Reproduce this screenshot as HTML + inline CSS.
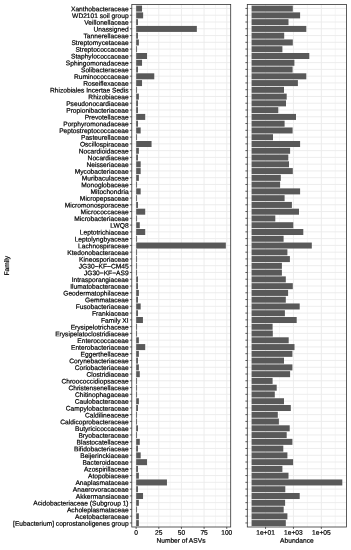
<!DOCTYPE html>
<html><head><meta charset="utf-8"><title>Family chart</title>
<style>html,body{margin:0;padding:0;background:#fff}svg text{text-rendering:geometricPrecision}</style></head>
<body>
<svg width="351" height="550" viewBox="0 0 351 550" style="display:block">
<rect width="351" height="550" fill="#fff"/>
<g stroke="#ebebeb" fill="none">
<line x1="147.47" x2="147.47" y1="4.4" y2="527.0" stroke-width="0.45"/>
<line x1="170.12" x2="170.12" y1="4.4" y2="527.0" stroke-width="0.45"/>
<line x1="192.78" x2="192.78" y1="4.4" y2="527.0" stroke-width="0.45"/>
<line x1="215.43" x2="215.43" y1="4.4" y2="527.0" stroke-width="0.45"/>
<line x1="136.15" x2="136.15" y1="4.4" y2="527.0" stroke-width="0.9"/>
<line x1="158.80" x2="158.80" y1="4.4" y2="527.0" stroke-width="0.9"/>
<line x1="181.45" x2="181.45" y1="4.4" y2="527.0" stroke-width="0.9"/>
<line x1="204.10" x2="204.10" y1="4.4" y2="527.0" stroke-width="0.9"/>
<line x1="226.75" x2="226.75" y1="4.4" y2="527.0" stroke-width="0.9"/>
<line x1="131.8" x2="230.7" y1="8.46" y2="8.46" stroke-width="0.9"/>
<line x1="131.8" x2="230.7" y1="15.23" y2="15.23" stroke-width="0.9"/>
<line x1="131.8" x2="230.7" y1="22.00" y2="22.00" stroke-width="0.9"/>
<line x1="131.8" x2="230.7" y1="28.77" y2="28.77" stroke-width="0.9"/>
<line x1="131.8" x2="230.7" y1="35.54" y2="35.54" stroke-width="0.9"/>
<line x1="131.8" x2="230.7" y1="42.31" y2="42.31" stroke-width="0.9"/>
<line x1="131.8" x2="230.7" y1="49.08" y2="49.08" stroke-width="0.9"/>
<line x1="131.8" x2="230.7" y1="55.85" y2="55.85" stroke-width="0.9"/>
<line x1="131.8" x2="230.7" y1="62.62" y2="62.62" stroke-width="0.9"/>
<line x1="131.8" x2="230.7" y1="69.39" y2="69.39" stroke-width="0.9"/>
<line x1="131.8" x2="230.7" y1="76.16" y2="76.16" stroke-width="0.9"/>
<line x1="131.8" x2="230.7" y1="82.93" y2="82.93" stroke-width="0.9"/>
<line x1="131.8" x2="230.7" y1="89.69" y2="89.69" stroke-width="0.9"/>
<line x1="131.8" x2="230.7" y1="96.46" y2="96.46" stroke-width="0.9"/>
<line x1="131.8" x2="230.7" y1="103.23" y2="103.23" stroke-width="0.9"/>
<line x1="131.8" x2="230.7" y1="110.00" y2="110.00" stroke-width="0.9"/>
<line x1="131.8" x2="230.7" y1="116.77" y2="116.77" stroke-width="0.9"/>
<line x1="131.8" x2="230.7" y1="123.54" y2="123.54" stroke-width="0.9"/>
<line x1="131.8" x2="230.7" y1="130.31" y2="130.31" stroke-width="0.9"/>
<line x1="131.8" x2="230.7" y1="137.08" y2="137.08" stroke-width="0.9"/>
<line x1="131.8" x2="230.7" y1="143.85" y2="143.85" stroke-width="0.9"/>
<line x1="131.8" x2="230.7" y1="150.62" y2="150.62" stroke-width="0.9"/>
<line x1="131.8" x2="230.7" y1="157.39" y2="157.39" stroke-width="0.9"/>
<line x1="131.8" x2="230.7" y1="164.16" y2="164.16" stroke-width="0.9"/>
<line x1="131.8" x2="230.7" y1="170.93" y2="170.93" stroke-width="0.9"/>
<line x1="131.8" x2="230.7" y1="177.70" y2="177.70" stroke-width="0.9"/>
<line x1="131.8" x2="230.7" y1="184.47" y2="184.47" stroke-width="0.9"/>
<line x1="131.8" x2="230.7" y1="191.24" y2="191.24" stroke-width="0.9"/>
<line x1="131.8" x2="230.7" y1="198.01" y2="198.01" stroke-width="0.9"/>
<line x1="131.8" x2="230.7" y1="204.78" y2="204.78" stroke-width="0.9"/>
<line x1="131.8" x2="230.7" y1="211.54" y2="211.54" stroke-width="0.9"/>
<line x1="131.8" x2="230.7" y1="218.31" y2="218.31" stroke-width="0.9"/>
<line x1="131.8" x2="230.7" y1="225.08" y2="225.08" stroke-width="0.9"/>
<line x1="131.8" x2="230.7" y1="231.85" y2="231.85" stroke-width="0.9"/>
<line x1="131.8" x2="230.7" y1="238.62" y2="238.62" stroke-width="0.9"/>
<line x1="131.8" x2="230.7" y1="245.39" y2="245.39" stroke-width="0.9"/>
<line x1="131.8" x2="230.7" y1="252.16" y2="252.16" stroke-width="0.9"/>
<line x1="131.8" x2="230.7" y1="258.93" y2="258.93" stroke-width="0.9"/>
<line x1="131.8" x2="230.7" y1="265.70" y2="265.70" stroke-width="0.9"/>
<line x1="131.8" x2="230.7" y1="272.47" y2="272.47" stroke-width="0.9"/>
<line x1="131.8" x2="230.7" y1="279.24" y2="279.24" stroke-width="0.9"/>
<line x1="131.8" x2="230.7" y1="286.01" y2="286.01" stroke-width="0.9"/>
<line x1="131.8" x2="230.7" y1="292.78" y2="292.78" stroke-width="0.9"/>
<line x1="131.8" x2="230.7" y1="299.55" y2="299.55" stroke-width="0.9"/>
<line x1="131.8" x2="230.7" y1="306.32" y2="306.32" stroke-width="0.9"/>
<line x1="131.8" x2="230.7" y1="313.09" y2="313.09" stroke-width="0.9"/>
<line x1="131.8" x2="230.7" y1="319.86" y2="319.86" stroke-width="0.9"/>
<line x1="131.8" x2="230.7" y1="326.62" y2="326.62" stroke-width="0.9"/>
<line x1="131.8" x2="230.7" y1="333.39" y2="333.39" stroke-width="0.9"/>
<line x1="131.8" x2="230.7" y1="340.16" y2="340.16" stroke-width="0.9"/>
<line x1="131.8" x2="230.7" y1="346.93" y2="346.93" stroke-width="0.9"/>
<line x1="131.8" x2="230.7" y1="353.70" y2="353.70" stroke-width="0.9"/>
<line x1="131.8" x2="230.7" y1="360.47" y2="360.47" stroke-width="0.9"/>
<line x1="131.8" x2="230.7" y1="367.24" y2="367.24" stroke-width="0.9"/>
<line x1="131.8" x2="230.7" y1="374.01" y2="374.01" stroke-width="0.9"/>
<line x1="131.8" x2="230.7" y1="380.78" y2="380.78" stroke-width="0.9"/>
<line x1="131.8" x2="230.7" y1="387.55" y2="387.55" stroke-width="0.9"/>
<line x1="131.8" x2="230.7" y1="394.32" y2="394.32" stroke-width="0.9"/>
<line x1="131.8" x2="230.7" y1="401.09" y2="401.09" stroke-width="0.9"/>
<line x1="131.8" x2="230.7" y1="407.86" y2="407.86" stroke-width="0.9"/>
<line x1="131.8" x2="230.7" y1="414.63" y2="414.63" stroke-width="0.9"/>
<line x1="131.8" x2="230.7" y1="421.40" y2="421.40" stroke-width="0.9"/>
<line x1="131.8" x2="230.7" y1="428.17" y2="428.17" stroke-width="0.9"/>
<line x1="131.8" x2="230.7" y1="434.94" y2="434.94" stroke-width="0.9"/>
<line x1="131.8" x2="230.7" y1="441.71" y2="441.71" stroke-width="0.9"/>
<line x1="131.8" x2="230.7" y1="448.47" y2="448.47" stroke-width="0.9"/>
<line x1="131.8" x2="230.7" y1="455.24" y2="455.24" stroke-width="0.9"/>
<line x1="131.8" x2="230.7" y1="462.01" y2="462.01" stroke-width="0.9"/>
<line x1="131.8" x2="230.7" y1="468.78" y2="468.78" stroke-width="0.9"/>
<line x1="131.8" x2="230.7" y1="475.55" y2="475.55" stroke-width="0.9"/>
<line x1="131.8" x2="230.7" y1="482.32" y2="482.32" stroke-width="0.9"/>
<line x1="131.8" x2="230.7" y1="489.09" y2="489.09" stroke-width="0.9"/>
<line x1="131.8" x2="230.7" y1="495.86" y2="495.86" stroke-width="0.9"/>
<line x1="131.8" x2="230.7" y1="502.63" y2="502.63" stroke-width="0.9"/>
<line x1="131.8" x2="230.7" y1="509.40" y2="509.40" stroke-width="0.9"/>
<line x1="131.8" x2="230.7" y1="516.17" y2="516.17" stroke-width="0.9"/>
<line x1="131.8" x2="230.7" y1="522.94" y2="522.94" stroke-width="0.9"/>
</g>
<g stroke="#ebebeb" fill="none">
<line x1="251.60" x2="251.60" y1="4.4" y2="527.0" stroke-width="0.45"/>
<line x1="279.50" x2="279.50" y1="4.4" y2="527.0" stroke-width="0.45"/>
<line x1="307.40" x2="307.40" y1="4.4" y2="527.0" stroke-width="0.45"/>
<line x1="335.30" x2="335.30" y1="4.4" y2="527.0" stroke-width="0.45"/>
<line x1="265.55" x2="265.55" y1="4.4" y2="527.0" stroke-width="0.9"/>
<line x1="293.45" x2="293.45" y1="4.4" y2="527.0" stroke-width="0.9"/>
<line x1="321.35" x2="321.35" y1="4.4" y2="527.0" stroke-width="0.9"/>
<line x1="247.3" x2="346.5" y1="8.46" y2="8.46" stroke-width="0.9"/>
<line x1="247.3" x2="346.5" y1="15.23" y2="15.23" stroke-width="0.9"/>
<line x1="247.3" x2="346.5" y1="22.00" y2="22.00" stroke-width="0.9"/>
<line x1="247.3" x2="346.5" y1="28.77" y2="28.77" stroke-width="0.9"/>
<line x1="247.3" x2="346.5" y1="35.54" y2="35.54" stroke-width="0.9"/>
<line x1="247.3" x2="346.5" y1="42.31" y2="42.31" stroke-width="0.9"/>
<line x1="247.3" x2="346.5" y1="49.08" y2="49.08" stroke-width="0.9"/>
<line x1="247.3" x2="346.5" y1="55.85" y2="55.85" stroke-width="0.9"/>
<line x1="247.3" x2="346.5" y1="62.62" y2="62.62" stroke-width="0.9"/>
<line x1="247.3" x2="346.5" y1="69.39" y2="69.39" stroke-width="0.9"/>
<line x1="247.3" x2="346.5" y1="76.16" y2="76.16" stroke-width="0.9"/>
<line x1="247.3" x2="346.5" y1="82.93" y2="82.93" stroke-width="0.9"/>
<line x1="247.3" x2="346.5" y1="89.69" y2="89.69" stroke-width="0.9"/>
<line x1="247.3" x2="346.5" y1="96.46" y2="96.46" stroke-width="0.9"/>
<line x1="247.3" x2="346.5" y1="103.23" y2="103.23" stroke-width="0.9"/>
<line x1="247.3" x2="346.5" y1="110.00" y2="110.00" stroke-width="0.9"/>
<line x1="247.3" x2="346.5" y1="116.77" y2="116.77" stroke-width="0.9"/>
<line x1="247.3" x2="346.5" y1="123.54" y2="123.54" stroke-width="0.9"/>
<line x1="247.3" x2="346.5" y1="130.31" y2="130.31" stroke-width="0.9"/>
<line x1="247.3" x2="346.5" y1="137.08" y2="137.08" stroke-width="0.9"/>
<line x1="247.3" x2="346.5" y1="143.85" y2="143.85" stroke-width="0.9"/>
<line x1="247.3" x2="346.5" y1="150.62" y2="150.62" stroke-width="0.9"/>
<line x1="247.3" x2="346.5" y1="157.39" y2="157.39" stroke-width="0.9"/>
<line x1="247.3" x2="346.5" y1="164.16" y2="164.16" stroke-width="0.9"/>
<line x1="247.3" x2="346.5" y1="170.93" y2="170.93" stroke-width="0.9"/>
<line x1="247.3" x2="346.5" y1="177.70" y2="177.70" stroke-width="0.9"/>
<line x1="247.3" x2="346.5" y1="184.47" y2="184.47" stroke-width="0.9"/>
<line x1="247.3" x2="346.5" y1="191.24" y2="191.24" stroke-width="0.9"/>
<line x1="247.3" x2="346.5" y1="198.01" y2="198.01" stroke-width="0.9"/>
<line x1="247.3" x2="346.5" y1="204.78" y2="204.78" stroke-width="0.9"/>
<line x1="247.3" x2="346.5" y1="211.54" y2="211.54" stroke-width="0.9"/>
<line x1="247.3" x2="346.5" y1="218.31" y2="218.31" stroke-width="0.9"/>
<line x1="247.3" x2="346.5" y1="225.08" y2="225.08" stroke-width="0.9"/>
<line x1="247.3" x2="346.5" y1="231.85" y2="231.85" stroke-width="0.9"/>
<line x1="247.3" x2="346.5" y1="238.62" y2="238.62" stroke-width="0.9"/>
<line x1="247.3" x2="346.5" y1="245.39" y2="245.39" stroke-width="0.9"/>
<line x1="247.3" x2="346.5" y1="252.16" y2="252.16" stroke-width="0.9"/>
<line x1="247.3" x2="346.5" y1="258.93" y2="258.93" stroke-width="0.9"/>
<line x1="247.3" x2="346.5" y1="265.70" y2="265.70" stroke-width="0.9"/>
<line x1="247.3" x2="346.5" y1="272.47" y2="272.47" stroke-width="0.9"/>
<line x1="247.3" x2="346.5" y1="279.24" y2="279.24" stroke-width="0.9"/>
<line x1="247.3" x2="346.5" y1="286.01" y2="286.01" stroke-width="0.9"/>
<line x1="247.3" x2="346.5" y1="292.78" y2="292.78" stroke-width="0.9"/>
<line x1="247.3" x2="346.5" y1="299.55" y2="299.55" stroke-width="0.9"/>
<line x1="247.3" x2="346.5" y1="306.32" y2="306.32" stroke-width="0.9"/>
<line x1="247.3" x2="346.5" y1="313.09" y2="313.09" stroke-width="0.9"/>
<line x1="247.3" x2="346.5" y1="319.86" y2="319.86" stroke-width="0.9"/>
<line x1="247.3" x2="346.5" y1="326.62" y2="326.62" stroke-width="0.9"/>
<line x1="247.3" x2="346.5" y1="333.39" y2="333.39" stroke-width="0.9"/>
<line x1="247.3" x2="346.5" y1="340.16" y2="340.16" stroke-width="0.9"/>
<line x1="247.3" x2="346.5" y1="346.93" y2="346.93" stroke-width="0.9"/>
<line x1="247.3" x2="346.5" y1="353.70" y2="353.70" stroke-width="0.9"/>
<line x1="247.3" x2="346.5" y1="360.47" y2="360.47" stroke-width="0.9"/>
<line x1="247.3" x2="346.5" y1="367.24" y2="367.24" stroke-width="0.9"/>
<line x1="247.3" x2="346.5" y1="374.01" y2="374.01" stroke-width="0.9"/>
<line x1="247.3" x2="346.5" y1="380.78" y2="380.78" stroke-width="0.9"/>
<line x1="247.3" x2="346.5" y1="387.55" y2="387.55" stroke-width="0.9"/>
<line x1="247.3" x2="346.5" y1="394.32" y2="394.32" stroke-width="0.9"/>
<line x1="247.3" x2="346.5" y1="401.09" y2="401.09" stroke-width="0.9"/>
<line x1="247.3" x2="346.5" y1="407.86" y2="407.86" stroke-width="0.9"/>
<line x1="247.3" x2="346.5" y1="414.63" y2="414.63" stroke-width="0.9"/>
<line x1="247.3" x2="346.5" y1="421.40" y2="421.40" stroke-width="0.9"/>
<line x1="247.3" x2="346.5" y1="428.17" y2="428.17" stroke-width="0.9"/>
<line x1="247.3" x2="346.5" y1="434.94" y2="434.94" stroke-width="0.9"/>
<line x1="247.3" x2="346.5" y1="441.71" y2="441.71" stroke-width="0.9"/>
<line x1="247.3" x2="346.5" y1="448.47" y2="448.47" stroke-width="0.9"/>
<line x1="247.3" x2="346.5" y1="455.24" y2="455.24" stroke-width="0.9"/>
<line x1="247.3" x2="346.5" y1="462.01" y2="462.01" stroke-width="0.9"/>
<line x1="247.3" x2="346.5" y1="468.78" y2="468.78" stroke-width="0.9"/>
<line x1="247.3" x2="346.5" y1="475.55" y2="475.55" stroke-width="0.9"/>
<line x1="247.3" x2="346.5" y1="482.32" y2="482.32" stroke-width="0.9"/>
<line x1="247.3" x2="346.5" y1="489.09" y2="489.09" stroke-width="0.9"/>
<line x1="247.3" x2="346.5" y1="495.86" y2="495.86" stroke-width="0.9"/>
<line x1="247.3" x2="346.5" y1="502.63" y2="502.63" stroke-width="0.9"/>
<line x1="247.3" x2="346.5" y1="509.40" y2="509.40" stroke-width="0.9"/>
<line x1="247.3" x2="346.5" y1="516.17" y2="516.17" stroke-width="0.9"/>
<line x1="247.3" x2="346.5" y1="522.94" y2="522.94" stroke-width="0.9"/>
</g>
<g fill="#595959">
<rect x="136.15" y="5.61" width="5.89" height="6.00"/>
<rect x="251.60" y="5.61" width="41.20" height="6.00"/>
<rect x="136.15" y="12.38" width="6.98" height="6.00"/>
<rect x="251.60" y="12.38" width="48.50" height="6.00"/>
<rect x="136.15" y="19.15" width="1.81" height="6.00"/>
<rect x="251.60" y="19.15" width="36.90" height="6.00"/>
<rect x="136.15" y="25.92" width="60.70" height="6.00"/>
<rect x="251.60" y="25.92" width="54.70" height="6.00"/>
<rect x="136.15" y="32.69" width="1.81" height="6.00"/>
<rect x="251.60" y="32.69" width="32.60" height="6.00"/>
<rect x="136.15" y="39.46" width="2.72" height="6.00"/>
<rect x="251.60" y="39.46" width="41.20" height="6.00"/>
<rect x="136.15" y="46.23" width="0.91" height="6.00"/>
<rect x="251.60" y="46.23" width="30.80" height="6.00"/>
<rect x="136.15" y="53.00" width="10.87" height="6.00"/>
<rect x="251.60" y="53.00" width="57.70" height="6.00"/>
<rect x="136.15" y="59.77" width="5.89" height="6.00"/>
<rect x="251.60" y="59.77" width="42.80" height="6.00"/>
<rect x="136.15" y="66.54" width="1.81" height="6.00"/>
<rect x="251.60" y="66.54" width="41.00" height="6.00"/>
<rect x="136.15" y="73.31" width="18.12" height="6.00"/>
<rect x="251.60" y="73.31" width="54.70" height="6.00"/>
<rect x="136.15" y="80.08" width="5.89" height="6.00"/>
<rect x="251.60" y="80.08" width="46.30" height="6.00"/>
<rect x="136.15" y="86.84" width="0.91" height="6.00"/>
<rect x="251.60" y="86.84" width="32.40" height="6.00"/>
<rect x="136.15" y="93.61" width="2.72" height="6.00"/>
<rect x="251.60" y="93.61" width="35.10" height="6.00"/>
<rect x="136.15" y="100.38" width="1.81" height="6.00"/>
<rect x="251.60" y="100.38" width="34.40" height="6.00"/>
<rect x="136.15" y="107.15" width="1.81" height="6.00"/>
<rect x="251.60" y="107.15" width="26.70" height="6.00"/>
<rect x="136.15" y="113.92" width="9.06" height="6.00"/>
<rect x="251.60" y="113.92" width="44.40" height="6.00"/>
<rect x="136.15" y="120.69" width="1.81" height="6.00"/>
<rect x="251.60" y="120.69" width="33.00" height="6.00"/>
<rect x="136.15" y="127.46" width="4.53" height="6.00"/>
<rect x="251.60" y="127.46" width="41.00" height="6.00"/>
<rect x="136.15" y="134.23" width="0.91" height="6.00"/>
<rect x="251.60" y="134.23" width="21.40" height="6.00"/>
<rect x="136.15" y="141.00" width="15.40" height="6.00"/>
<rect x="251.60" y="141.00" width="48.50" height="6.00"/>
<rect x="136.15" y="147.77" width="2.72" height="6.00"/>
<rect x="251.60" y="147.77" width="38.50" height="6.00"/>
<rect x="136.15" y="154.54" width="1.81" height="6.00"/>
<rect x="251.60" y="154.54" width="36.70" height="6.00"/>
<rect x="136.15" y="161.31" width="4.53" height="6.00"/>
<rect x="251.60" y="161.31" width="37.40" height="6.00"/>
<rect x="136.15" y="168.08" width="4.53" height="6.00"/>
<rect x="251.60" y="168.08" width="41.20" height="6.00"/>
<rect x="136.15" y="174.85" width="2.72" height="6.00"/>
<rect x="251.60" y="174.85" width="29.20" height="6.00"/>
<rect x="136.15" y="181.62" width="0.91" height="6.00"/>
<rect x="251.60" y="181.62" width="28.50" height="6.00"/>
<rect x="136.15" y="188.39" width="4.53" height="6.00"/>
<rect x="251.60" y="188.39" width="48.50" height="6.00"/>
<rect x="136.15" y="195.16" width="0.91" height="6.00"/>
<rect x="251.60" y="195.16" width="33.00" height="6.00"/>
<rect x="136.15" y="201.93" width="1.81" height="6.00"/>
<rect x="251.60" y="201.93" width="40.30" height="6.00"/>
<rect x="136.15" y="208.69" width="9.06" height="6.00"/>
<rect x="251.60" y="208.69" width="47.40" height="6.00"/>
<rect x="136.15" y="215.46" width="0.91" height="6.00"/>
<rect x="251.60" y="215.46" width="23.70" height="6.00"/>
<rect x="136.15" y="222.23" width="3.62" height="6.00"/>
<rect x="251.60" y="222.23" width="41.70" height="6.00"/>
<rect x="136.15" y="229.00" width="9.06" height="6.00"/>
<rect x="251.60" y="229.00" width="51.70" height="6.00"/>
<rect x="136.15" y="235.77" width="0.91" height="6.00"/>
<rect x="251.60" y="235.77" width="32.00" height="6.00"/>
<rect x="136.15" y="242.54" width="89.69" height="6.00"/>
<rect x="251.60" y="242.54" width="60.20" height="6.00"/>
<rect x="136.15" y="249.31" width="0.91" height="6.00"/>
<rect x="251.60" y="249.31" width="35.80" height="6.00"/>
<rect x="136.15" y="256.08" width="0.91" height="6.00"/>
<rect x="251.60" y="256.08" width="38.30" height="6.00"/>
<rect x="136.15" y="262.85" width="0.91" height="6.00"/>
<rect x="251.60" y="262.85" width="30.30" height="6.00"/>
<rect x="136.15" y="269.62" width="0.91" height="6.00"/>
<rect x="251.60" y="269.62" width="30.30" height="6.00"/>
<rect x="136.15" y="276.39" width="1.81" height="6.00"/>
<rect x="251.60" y="276.39" width="34.20" height="6.00"/>
<rect x="136.15" y="283.16" width="1.81" height="6.00"/>
<rect x="251.60" y="283.16" width="41.20" height="6.00"/>
<rect x="136.15" y="289.93" width="2.72" height="6.00"/>
<rect x="251.60" y="289.93" width="36.50" height="6.00"/>
<rect x="136.15" y="296.70" width="1.81" height="6.00"/>
<rect x="251.60" y="296.70" width="34.20" height="6.00"/>
<rect x="136.15" y="303.47" width="4.53" height="6.00"/>
<rect x="251.60" y="303.47" width="48.10" height="6.00"/>
<rect x="136.15" y="310.24" width="1.81" height="6.00"/>
<rect x="251.60" y="310.24" width="33.30" height="6.00"/>
<rect x="136.15" y="317.01" width="6.79" height="6.00"/>
<rect x="251.60" y="317.01" width="45.10" height="6.00"/>
<rect x="136.15" y="323.77" width="0.91" height="6.00"/>
<rect x="251.60" y="323.77" width="21.00" height="6.00"/>
<rect x="136.15" y="330.54" width="0.91" height="6.00"/>
<rect x="251.60" y="330.54" width="21.20" height="6.00"/>
<rect x="136.15" y="337.31" width="2.72" height="6.00"/>
<rect x="251.60" y="337.31" width="37.10" height="6.00"/>
<rect x="136.15" y="344.08" width="9.06" height="6.00"/>
<rect x="251.60" y="344.08" width="42.90" height="6.00"/>
<rect x="136.15" y="350.85" width="2.72" height="6.00"/>
<rect x="251.60" y="350.85" width="40.80" height="6.00"/>
<rect x="136.15" y="357.62" width="1.81" height="6.00"/>
<rect x="251.60" y="357.62" width="32.40" height="6.00"/>
<rect x="136.15" y="364.39" width="2.72" height="6.00"/>
<rect x="251.60" y="364.39" width="40.80" height="6.00"/>
<rect x="136.15" y="371.16" width="3.62" height="6.00"/>
<rect x="251.60" y="371.16" width="38.50" height="6.00"/>
<rect x="136.15" y="377.93" width="0.91" height="6.00"/>
<rect x="251.60" y="377.93" width="21.00" height="6.00"/>
<rect x="136.15" y="384.70" width="0.91" height="6.00"/>
<rect x="251.60" y="384.70" width="25.10" height="6.00"/>
<rect x="136.15" y="391.47" width="0.91" height="6.00"/>
<rect x="251.60" y="391.47" width="23.20" height="6.00"/>
<rect x="136.15" y="398.24" width="2.72" height="6.00"/>
<rect x="251.60" y="398.24" width="32.40" height="6.00"/>
<rect x="136.15" y="405.01" width="1.81" height="6.00"/>
<rect x="251.60" y="405.01" width="39.20" height="6.00"/>
<rect x="136.15" y="411.78" width="0.91" height="6.00"/>
<rect x="251.60" y="411.78" width="26.20" height="6.00"/>
<rect x="136.15" y="418.55" width="0.91" height="6.00"/>
<rect x="251.60" y="418.55" width="27.30" height="6.00"/>
<rect x="136.15" y="425.32" width="1.81" height="6.00"/>
<rect x="251.60" y="425.32" width="38.10" height="6.00"/>
<rect x="136.15" y="432.09" width="0.91" height="6.00"/>
<rect x="251.60" y="432.09" width="35.10" height="6.00"/>
<rect x="136.15" y="438.86" width="3.62" height="6.00"/>
<rect x="251.60" y="438.86" width="40.80" height="6.00"/>
<rect x="136.15" y="445.62" width="1.81" height="6.00"/>
<rect x="251.60" y="445.62" width="31.70" height="6.00"/>
<rect x="136.15" y="452.39" width="4.53" height="6.00"/>
<rect x="251.60" y="452.39" width="35.80" height="6.00"/>
<rect x="136.15" y="459.16" width="10.87" height="6.00"/>
<rect x="251.60" y="459.16" width="41.50" height="6.00"/>
<rect x="136.15" y="465.93" width="1.81" height="6.00"/>
<rect x="251.60" y="465.93" width="30.80" height="6.00"/>
<rect x="136.15" y="472.70" width="2.72" height="6.00"/>
<rect x="251.60" y="472.70" width="36.90" height="6.00"/>
<rect x="136.15" y="479.47" width="30.80" height="6.00"/>
<rect x="251.60" y="479.47" width="90.70" height="6.00"/>
<rect x="136.15" y="486.24" width="1.81" height="6.00"/>
<rect x="251.60" y="486.24" width="33.70" height="6.00"/>
<rect x="136.15" y="493.01" width="6.89" height="6.00"/>
<rect x="251.60" y="493.01" width="48.10" height="6.00"/>
<rect x="136.15" y="499.78" width="2.72" height="6.00"/>
<rect x="251.60" y="499.78" width="33.50" height="6.00"/>
<rect x="136.15" y="506.55" width="0.91" height="6.00"/>
<rect x="251.60" y="506.55" width="32.10" height="6.00"/>
<rect x="136.15" y="513.32" width="2.72" height="6.00"/>
<rect x="251.60" y="513.32" width="35.80" height="6.00"/>
<rect x="136.15" y="520.09" width="2.72" height="6.00"/>
<rect x="251.60" y="520.09" width="34.20" height="6.00"/>
</g>
<g stroke="#333333" fill="none" stroke-width="0.8">
<rect x="131.8" y="4.4" width="98.90" height="522.60"/>
<rect x="247.3" y="4.4" width="99.20" height="522.60"/>
<line x1="129.90" x2="131.8" y1="8.46" y2="8.46"/>
<line x1="245.40" x2="247.3" y1="8.46" y2="8.46"/>
<line x1="129.90" x2="131.8" y1="15.23" y2="15.23"/>
<line x1="245.40" x2="247.3" y1="15.23" y2="15.23"/>
<line x1="129.90" x2="131.8" y1="22.00" y2="22.00"/>
<line x1="245.40" x2="247.3" y1="22.00" y2="22.00"/>
<line x1="129.90" x2="131.8" y1="28.77" y2="28.77"/>
<line x1="245.40" x2="247.3" y1="28.77" y2="28.77"/>
<line x1="129.90" x2="131.8" y1="35.54" y2="35.54"/>
<line x1="245.40" x2="247.3" y1="35.54" y2="35.54"/>
<line x1="129.90" x2="131.8" y1="42.31" y2="42.31"/>
<line x1="245.40" x2="247.3" y1="42.31" y2="42.31"/>
<line x1="129.90" x2="131.8" y1="49.08" y2="49.08"/>
<line x1="245.40" x2="247.3" y1="49.08" y2="49.08"/>
<line x1="129.90" x2="131.8" y1="55.85" y2="55.85"/>
<line x1="245.40" x2="247.3" y1="55.85" y2="55.85"/>
<line x1="129.90" x2="131.8" y1="62.62" y2="62.62"/>
<line x1="245.40" x2="247.3" y1="62.62" y2="62.62"/>
<line x1="129.90" x2="131.8" y1="69.39" y2="69.39"/>
<line x1="245.40" x2="247.3" y1="69.39" y2="69.39"/>
<line x1="129.90" x2="131.8" y1="76.16" y2="76.16"/>
<line x1="245.40" x2="247.3" y1="76.16" y2="76.16"/>
<line x1="129.90" x2="131.8" y1="82.93" y2="82.93"/>
<line x1="245.40" x2="247.3" y1="82.93" y2="82.93"/>
<line x1="129.90" x2="131.8" y1="89.69" y2="89.69"/>
<line x1="245.40" x2="247.3" y1="89.69" y2="89.69"/>
<line x1="129.90" x2="131.8" y1="96.46" y2="96.46"/>
<line x1="245.40" x2="247.3" y1="96.46" y2="96.46"/>
<line x1="129.90" x2="131.8" y1="103.23" y2="103.23"/>
<line x1="245.40" x2="247.3" y1="103.23" y2="103.23"/>
<line x1="129.90" x2="131.8" y1="110.00" y2="110.00"/>
<line x1="245.40" x2="247.3" y1="110.00" y2="110.00"/>
<line x1="129.90" x2="131.8" y1="116.77" y2="116.77"/>
<line x1="245.40" x2="247.3" y1="116.77" y2="116.77"/>
<line x1="129.90" x2="131.8" y1="123.54" y2="123.54"/>
<line x1="245.40" x2="247.3" y1="123.54" y2="123.54"/>
<line x1="129.90" x2="131.8" y1="130.31" y2="130.31"/>
<line x1="245.40" x2="247.3" y1="130.31" y2="130.31"/>
<line x1="129.90" x2="131.8" y1="137.08" y2="137.08"/>
<line x1="245.40" x2="247.3" y1="137.08" y2="137.08"/>
<line x1="129.90" x2="131.8" y1="143.85" y2="143.85"/>
<line x1="245.40" x2="247.3" y1="143.85" y2="143.85"/>
<line x1="129.90" x2="131.8" y1="150.62" y2="150.62"/>
<line x1="245.40" x2="247.3" y1="150.62" y2="150.62"/>
<line x1="129.90" x2="131.8" y1="157.39" y2="157.39"/>
<line x1="245.40" x2="247.3" y1="157.39" y2="157.39"/>
<line x1="129.90" x2="131.8" y1="164.16" y2="164.16"/>
<line x1="245.40" x2="247.3" y1="164.16" y2="164.16"/>
<line x1="129.90" x2="131.8" y1="170.93" y2="170.93"/>
<line x1="245.40" x2="247.3" y1="170.93" y2="170.93"/>
<line x1="129.90" x2="131.8" y1="177.70" y2="177.70"/>
<line x1="245.40" x2="247.3" y1="177.70" y2="177.70"/>
<line x1="129.90" x2="131.8" y1="184.47" y2="184.47"/>
<line x1="245.40" x2="247.3" y1="184.47" y2="184.47"/>
<line x1="129.90" x2="131.8" y1="191.24" y2="191.24"/>
<line x1="245.40" x2="247.3" y1="191.24" y2="191.24"/>
<line x1="129.90" x2="131.8" y1="198.01" y2="198.01"/>
<line x1="245.40" x2="247.3" y1="198.01" y2="198.01"/>
<line x1="129.90" x2="131.8" y1="204.78" y2="204.78"/>
<line x1="245.40" x2="247.3" y1="204.78" y2="204.78"/>
<line x1="129.90" x2="131.8" y1="211.54" y2="211.54"/>
<line x1="245.40" x2="247.3" y1="211.54" y2="211.54"/>
<line x1="129.90" x2="131.8" y1="218.31" y2="218.31"/>
<line x1="245.40" x2="247.3" y1="218.31" y2="218.31"/>
<line x1="129.90" x2="131.8" y1="225.08" y2="225.08"/>
<line x1="245.40" x2="247.3" y1="225.08" y2="225.08"/>
<line x1="129.90" x2="131.8" y1="231.85" y2="231.85"/>
<line x1="245.40" x2="247.3" y1="231.85" y2="231.85"/>
<line x1="129.90" x2="131.8" y1="238.62" y2="238.62"/>
<line x1="245.40" x2="247.3" y1="238.62" y2="238.62"/>
<line x1="129.90" x2="131.8" y1="245.39" y2="245.39"/>
<line x1="245.40" x2="247.3" y1="245.39" y2="245.39"/>
<line x1="129.90" x2="131.8" y1="252.16" y2="252.16"/>
<line x1="245.40" x2="247.3" y1="252.16" y2="252.16"/>
<line x1="129.90" x2="131.8" y1="258.93" y2="258.93"/>
<line x1="245.40" x2="247.3" y1="258.93" y2="258.93"/>
<line x1="129.90" x2="131.8" y1="265.70" y2="265.70"/>
<line x1="245.40" x2="247.3" y1="265.70" y2="265.70"/>
<line x1="129.90" x2="131.8" y1="272.47" y2="272.47"/>
<line x1="245.40" x2="247.3" y1="272.47" y2="272.47"/>
<line x1="129.90" x2="131.8" y1="279.24" y2="279.24"/>
<line x1="245.40" x2="247.3" y1="279.24" y2="279.24"/>
<line x1="129.90" x2="131.8" y1="286.01" y2="286.01"/>
<line x1="245.40" x2="247.3" y1="286.01" y2="286.01"/>
<line x1="129.90" x2="131.8" y1="292.78" y2="292.78"/>
<line x1="245.40" x2="247.3" y1="292.78" y2="292.78"/>
<line x1="129.90" x2="131.8" y1="299.55" y2="299.55"/>
<line x1="245.40" x2="247.3" y1="299.55" y2="299.55"/>
<line x1="129.90" x2="131.8" y1="306.32" y2="306.32"/>
<line x1="245.40" x2="247.3" y1="306.32" y2="306.32"/>
<line x1="129.90" x2="131.8" y1="313.09" y2="313.09"/>
<line x1="245.40" x2="247.3" y1="313.09" y2="313.09"/>
<line x1="129.90" x2="131.8" y1="319.86" y2="319.86"/>
<line x1="245.40" x2="247.3" y1="319.86" y2="319.86"/>
<line x1="129.90" x2="131.8" y1="326.62" y2="326.62"/>
<line x1="245.40" x2="247.3" y1="326.62" y2="326.62"/>
<line x1="129.90" x2="131.8" y1="333.39" y2="333.39"/>
<line x1="245.40" x2="247.3" y1="333.39" y2="333.39"/>
<line x1="129.90" x2="131.8" y1="340.16" y2="340.16"/>
<line x1="245.40" x2="247.3" y1="340.16" y2="340.16"/>
<line x1="129.90" x2="131.8" y1="346.93" y2="346.93"/>
<line x1="245.40" x2="247.3" y1="346.93" y2="346.93"/>
<line x1="129.90" x2="131.8" y1="353.70" y2="353.70"/>
<line x1="245.40" x2="247.3" y1="353.70" y2="353.70"/>
<line x1="129.90" x2="131.8" y1="360.47" y2="360.47"/>
<line x1="245.40" x2="247.3" y1="360.47" y2="360.47"/>
<line x1="129.90" x2="131.8" y1="367.24" y2="367.24"/>
<line x1="245.40" x2="247.3" y1="367.24" y2="367.24"/>
<line x1="129.90" x2="131.8" y1="374.01" y2="374.01"/>
<line x1="245.40" x2="247.3" y1="374.01" y2="374.01"/>
<line x1="129.90" x2="131.8" y1="380.78" y2="380.78"/>
<line x1="245.40" x2="247.3" y1="380.78" y2="380.78"/>
<line x1="129.90" x2="131.8" y1="387.55" y2="387.55"/>
<line x1="245.40" x2="247.3" y1="387.55" y2="387.55"/>
<line x1="129.90" x2="131.8" y1="394.32" y2="394.32"/>
<line x1="245.40" x2="247.3" y1="394.32" y2="394.32"/>
<line x1="129.90" x2="131.8" y1="401.09" y2="401.09"/>
<line x1="245.40" x2="247.3" y1="401.09" y2="401.09"/>
<line x1="129.90" x2="131.8" y1="407.86" y2="407.86"/>
<line x1="245.40" x2="247.3" y1="407.86" y2="407.86"/>
<line x1="129.90" x2="131.8" y1="414.63" y2="414.63"/>
<line x1="245.40" x2="247.3" y1="414.63" y2="414.63"/>
<line x1="129.90" x2="131.8" y1="421.40" y2="421.40"/>
<line x1="245.40" x2="247.3" y1="421.40" y2="421.40"/>
<line x1="129.90" x2="131.8" y1="428.17" y2="428.17"/>
<line x1="245.40" x2="247.3" y1="428.17" y2="428.17"/>
<line x1="129.90" x2="131.8" y1="434.94" y2="434.94"/>
<line x1="245.40" x2="247.3" y1="434.94" y2="434.94"/>
<line x1="129.90" x2="131.8" y1="441.71" y2="441.71"/>
<line x1="245.40" x2="247.3" y1="441.71" y2="441.71"/>
<line x1="129.90" x2="131.8" y1="448.47" y2="448.47"/>
<line x1="245.40" x2="247.3" y1="448.47" y2="448.47"/>
<line x1="129.90" x2="131.8" y1="455.24" y2="455.24"/>
<line x1="245.40" x2="247.3" y1="455.24" y2="455.24"/>
<line x1="129.90" x2="131.8" y1="462.01" y2="462.01"/>
<line x1="245.40" x2="247.3" y1="462.01" y2="462.01"/>
<line x1="129.90" x2="131.8" y1="468.78" y2="468.78"/>
<line x1="245.40" x2="247.3" y1="468.78" y2="468.78"/>
<line x1="129.90" x2="131.8" y1="475.55" y2="475.55"/>
<line x1="245.40" x2="247.3" y1="475.55" y2="475.55"/>
<line x1="129.90" x2="131.8" y1="482.32" y2="482.32"/>
<line x1="245.40" x2="247.3" y1="482.32" y2="482.32"/>
<line x1="129.90" x2="131.8" y1="489.09" y2="489.09"/>
<line x1="245.40" x2="247.3" y1="489.09" y2="489.09"/>
<line x1="129.90" x2="131.8" y1="495.86" y2="495.86"/>
<line x1="245.40" x2="247.3" y1="495.86" y2="495.86"/>
<line x1="129.90" x2="131.8" y1="502.63" y2="502.63"/>
<line x1="245.40" x2="247.3" y1="502.63" y2="502.63"/>
<line x1="129.90" x2="131.8" y1="509.40" y2="509.40"/>
<line x1="245.40" x2="247.3" y1="509.40" y2="509.40"/>
<line x1="129.90" x2="131.8" y1="516.17" y2="516.17"/>
<line x1="245.40" x2="247.3" y1="516.17" y2="516.17"/>
<line x1="129.90" x2="131.8" y1="522.94" y2="522.94"/>
<line x1="245.40" x2="247.3" y1="522.94" y2="522.94"/>
<line x1="136.15" x2="136.15" y1="527.0" y2="528.90"/>
<line x1="158.80" x2="158.80" y1="527.0" y2="528.90"/>
<line x1="181.45" x2="181.45" y1="527.0" y2="528.90"/>
<line x1="204.10" x2="204.10" y1="527.0" y2="528.90"/>
<line x1="226.75" x2="226.75" y1="527.0" y2="528.90"/>
<line x1="265.55" x2="265.55" y1="527.0" y2="528.90"/>
<line x1="293.45" x2="293.45" y1="527.0" y2="528.90"/>
<line x1="321.35" x2="321.35" y1="527.0" y2="528.90"/>
</g>
<g font-family="'Liberation Sans', Arial, Helvetica, sans-serif" font-size="6.65" fill="#000000" stroke="#000000" stroke-width="0.2">
<g text-anchor="end">
<text x="128.6" y="11.26" transform="rotate(0.03 128.6 11.26)">Xanthobacteraceae</text>
<text x="128.6" y="18.03" transform="rotate(0.03 128.6 18.03)">WD2101 soil group</text>
<text x="128.6" y="24.80" transform="rotate(0.03 128.6 24.80)">Veillonellaceae</text>
<text x="128.6" y="31.57" transform="rotate(0.03 128.6 31.57)">Unassigned</text>
<text x="128.6" y="38.34" transform="rotate(0.03 128.6 38.34)">Tannerellaceae</text>
<text x="128.6" y="45.11" transform="rotate(0.03 128.6 45.11)">Streptomycetaceae</text>
<text x="128.6" y="51.88" transform="rotate(0.03 128.6 51.88)">Streptococcaceae</text>
<text x="128.6" y="58.65" transform="rotate(0.03 128.6 58.65)">Staphylococcaceae</text>
<text x="128.6" y="65.42" transform="rotate(0.03 128.6 65.42)">Sphingomonadaceae</text>
<text x="128.6" y="72.19" transform="rotate(0.03 128.6 72.19)">Solibacteraceae</text>
<text x="128.6" y="78.96" transform="rotate(0.03 128.6 78.96)">Ruminococcaceae</text>
<text x="128.6" y="85.73" transform="rotate(0.03 128.6 85.73)">Roseiflexaceae</text>
<text x="128.6" y="92.49" transform="rotate(0.03 128.6 92.49)">Rhizobiales Incertae Sedis</text>
<text x="128.6" y="99.26" transform="rotate(0.03 128.6 99.26)">Rhizobiaceae</text>
<text x="128.6" y="106.03" transform="rotate(0.03 128.6 106.03)">Pseudonocardiaceae</text>
<text x="128.6" y="112.80" transform="rotate(0.03 128.6 112.80)">Propionibacteriaceae</text>
<text x="128.6" y="119.57" transform="rotate(0.03 128.6 119.57)">Prevotellaceae</text>
<text x="128.6" y="126.34" transform="rotate(0.03 128.6 126.34)">Porphyromonadaceae</text>
<text x="128.6" y="133.11" transform="rotate(0.03 128.6 133.11)">Peptostreptococcaceae</text>
<text x="128.6" y="139.88" transform="rotate(0.03 128.6 139.88)">Pasteurellaceae</text>
<text x="128.6" y="146.65" transform="rotate(0.03 128.6 146.65)">Oscillospiraceae</text>
<text x="128.6" y="153.42" transform="rotate(0.03 128.6 153.42)">Nocardioidaceae</text>
<text x="128.6" y="160.19" transform="rotate(0.03 128.6 160.19)">Nocardiaceae</text>
<text x="128.6" y="166.96" transform="rotate(0.03 128.6 166.96)">Neisseriaceae</text>
<text x="128.6" y="173.73" transform="rotate(0.03 128.6 173.73)">Mycobacteriaceae</text>
<text x="128.6" y="180.50" transform="rotate(0.03 128.6 180.50)">Muribaculaceae</text>
<text x="128.6" y="187.27" transform="rotate(0.03 128.6 187.27)">Monoglobaceae</text>
<text x="128.6" y="194.04" transform="rotate(0.03 128.6 194.04)">Mitochondria</text>
<text x="128.6" y="200.81" transform="rotate(0.03 128.6 200.81)">Micropepsaceae</text>
<text x="128.6" y="207.58" transform="rotate(0.03 128.6 207.58)">Micromonosporaceae</text>
<text x="128.6" y="214.34" transform="rotate(0.03 128.6 214.34)">Micrococcaceae</text>
<text x="128.6" y="221.11" transform="rotate(0.03 128.6 221.11)">Microbacteriaceae</text>
<text x="128.6" y="227.88" transform="rotate(0.03 128.6 227.88)">LWQ8</text>
<text x="128.6" y="234.65" transform="rotate(0.03 128.6 234.65)">Leptotrichiaceae</text>
<text x="128.6" y="241.42" transform="rotate(0.03 128.6 241.42)">Leptolyngbyaceae</text>
<text x="128.6" y="248.19" transform="rotate(0.03 128.6 248.19)">Lachnospiraceae</text>
<text x="128.6" y="254.96" transform="rotate(0.03 128.6 254.96)">Ktedonobacteraceae</text>
<text x="128.6" y="261.73" transform="rotate(0.03 128.6 261.73)">Kineosporiaceae</text>
<text x="128.6" y="268.50" transform="rotate(0.03 128.6 268.50)">JG30−KF−CM45</text>
<text x="128.6" y="275.27" transform="rotate(0.03 128.6 275.27)">JG30−KF−AS9</text>
<text x="128.6" y="282.04" transform="rotate(0.03 128.6 282.04)">Intrasporangiaceae</text>
<text x="128.6" y="288.81" transform="rotate(0.03 128.6 288.81)">Ilumatobacteraceae</text>
<text x="128.6" y="295.58" transform="rotate(0.03 128.6 295.58)">Geodermatophilaceae</text>
<text x="128.6" y="302.35" transform="rotate(0.03 128.6 302.35)">Gemmataceae</text>
<text x="128.6" y="309.12" transform="rotate(0.03 128.6 309.12)">Fusobacteriaceae</text>
<text x="128.6" y="315.89" transform="rotate(0.03 128.6 315.89)">Frankiaceae</text>
<text x="128.6" y="322.66" transform="rotate(0.03 128.6 322.66)">Family XI</text>
<text x="128.6" y="329.42" transform="rotate(0.03 128.6 329.42)">Erysipelotrichaceae</text>
<text x="128.6" y="336.19" transform="rotate(0.03 128.6 336.19)">Erysipelatoclostridiaceae</text>
<text x="128.6" y="342.96" transform="rotate(0.03 128.6 342.96)">Enterococcaceae</text>
<text x="128.6" y="349.73" transform="rotate(0.03 128.6 349.73)">Enterobacteriaceae</text>
<text x="128.6" y="356.50" transform="rotate(0.03 128.6 356.50)">Eggerthellaceae</text>
<text x="128.6" y="363.27" transform="rotate(0.03 128.6 363.27)">Corynebacteriaceae</text>
<text x="128.6" y="370.04" transform="rotate(0.03 128.6 370.04)">Coriobacteriaceae</text>
<text x="128.6" y="376.81" transform="rotate(0.03 128.6 376.81)">Clostridiaceae</text>
<text x="128.6" y="383.58" transform="rotate(0.03 128.6 383.58)">Chroococcidiopsaceae</text>
<text x="128.6" y="390.35" transform="rotate(0.03 128.6 390.35)">Christensenellaceae</text>
<text x="128.6" y="397.12" transform="rotate(0.03 128.6 397.12)">Chitinophagaceae</text>
<text x="128.6" y="403.89" transform="rotate(0.03 128.6 403.89)">Caulobacteraceae</text>
<text x="128.6" y="410.66" transform="rotate(0.03 128.6 410.66)">Campylobacteraceae</text>
<text x="128.6" y="417.43" transform="rotate(0.03 128.6 417.43)">Caldilineaceae</text>
<text x="128.6" y="424.20" transform="rotate(0.03 128.6 424.20)">Caldicoprobacteraceae</text>
<text x="128.6" y="430.97" transform="rotate(0.03 128.6 430.97)">Butyricicoccaceae</text>
<text x="128.6" y="437.74" transform="rotate(0.03 128.6 437.74)">Bryobacteraceae</text>
<text x="128.6" y="444.51" transform="rotate(0.03 128.6 444.51)">Blastocatellaceae</text>
<text x="128.6" y="451.27" transform="rotate(0.03 128.6 451.27)">Bifidobacteriaceae</text>
<text x="128.6" y="458.04" transform="rotate(0.03 128.6 458.04)">Beijerinckiaceae</text>
<text x="128.6" y="464.81" transform="rotate(0.03 128.6 464.81)">Bacteroidaceae</text>
<text x="128.6" y="471.58" transform="rotate(0.03 128.6 471.58)">Azospirillaceae</text>
<text x="128.6" y="478.35" transform="rotate(0.03 128.6 478.35)">Atopobiaceae</text>
<text x="128.6" y="485.12" transform="rotate(0.03 128.6 485.12)">Anaplasmataceae</text>
<text x="128.6" y="491.89" transform="rotate(0.03 128.6 491.89)">Anaerovoracaceae</text>
<text x="128.6" y="498.66" transform="rotate(0.03 128.6 498.66)">Akkermansiaceae</text>
<text x="128.6" y="505.43" transform="rotate(0.03 128.6 505.43)">Acidobacteriaceae (Subgroup 1)</text>
<text x="128.6" y="512.20" transform="rotate(0.03 128.6 512.20)">Acholeplasmataceae</text>
<text x="128.6" y="518.97" transform="rotate(0.03 128.6 518.97)">Acetobacteraceae</text>
<text x="128.6" y="525.74" transform="rotate(0.03 128.6 525.74)">[Eubacterium] coprostanoligenes group</text>
</g>
<g text-anchor="middle">
<text x="136.15" y="534.8" transform="rotate(0.03 136.15 534.8)">0</text>
<text x="158.80" y="534.8" transform="rotate(0.03 158.80 534.8)">25</text>
<text x="181.45" y="534.8" transform="rotate(0.03 181.45 534.8)">50</text>
<text x="204.10" y="534.8" transform="rotate(0.03 204.10 534.8)">75</text>
<text x="226.75" y="534.8" transform="rotate(0.03 226.75 534.8)">100</text>
<text x="265.55" y="534.8" transform="rotate(0.03 265.55 534.8)">1e+01</text>
<text x="293.45" y="534.8" transform="rotate(0.03 293.45 534.8)">1e+03</text>
<text x="321.35" y="534.8" transform="rotate(0.03 321.35 534.8)">1e+05</text>
<text x="180.95" y="542.8" transform="rotate(0.03 180.95 542.8)">Number of ASVs</text>
<text x="296.90" y="542.8" transform="rotate(0.03 296.90 542.8)">Abundance</text>
<text transform="translate(9.2,265.70) rotate(-90)" stroke-width="0.22">Family</text>
</g></g>
</svg>
</body></html>
